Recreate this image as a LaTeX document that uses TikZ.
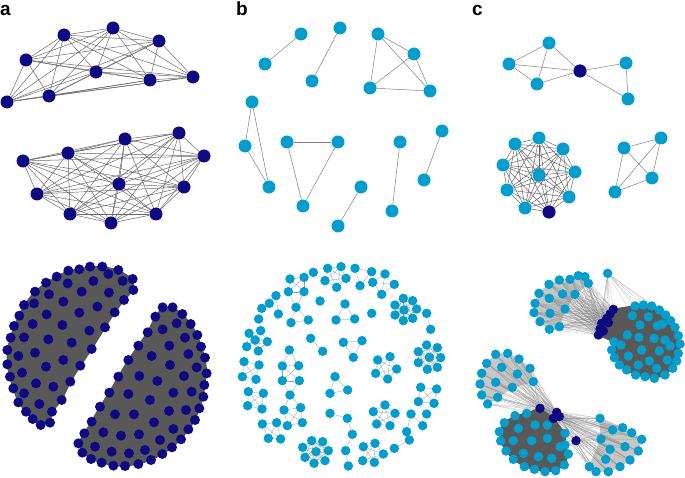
\documentclass[tikz,border=0pt]{standalone}
\usepackage{fontspec}
\setsansfont{Liberation Sans}
\definecolor{navy}{RGB}{15,10,130}
\definecolor{cyn}{RGB}{5,157,204}
\definecolor{edg}{RGB}{105,105,105}
\definecolor{dense}{RGB}{88,88,88}
\pgfdeclarelayer{bg}
\pgfsetlayers{bg,main}
\newcommand\mykcl[3]{\foreach \u in {#3}{\foreach \v in {#3}{\ifnum\u<\v\relax \draw[#1] (#2\u)--(#2\v);\fi}}}
\begin{document}
\begin{tikzpicture}[x=1pt,y=-1pt,
 nbig/.style={circle,inner sep=0pt,minimum size=13pt,fill=navy},
 cbig/.style={circle,inner sep=0pt,minimum size=13pt,fill=cyn},
 nsm/.style={circle,inner sep=0pt,minimum size=10pt,fill=navy},
 csm/.style={circle,inner sep=0pt,minimum size=9.5pt,fill=cyn},
 nsmc/.style={circle,inner sep=0pt,minimum size=9.5pt,fill=navy},
 ed/.style={draw=edg,line width=0.5pt},
 edb/.style={draw=black!50,line width=0.5pt},
 bed/.style={draw=black!40,line width=0.3pt},
 fan/.style={draw=black!50,line width=0.25pt,opacity=0.55},
 densef/.style={fill=dense,draw=dense,line width=1.5pt,line join=round},
 lightf/.style={fill=black!22,draw=black!22,line width=1pt,line join=round},
 lab/.style={font=\sffamily\bfseries\fontsize{19}{19}\selectfont,inner sep=0pt,anchor=base west}]
\useasboundingbox (0,0) rectangle (685,478);

% labels
\node[lab] (la) at (0,16) {a};
\node[lab] (lb) at (236,16) {b};
\node[lab] (lc) at (472,16) {c};

% ---------- panel a top ----------
\foreach \x/\y [count=\i] in {64/35,113/28,159/41,26/60,96/72,150/80,193/77,49/96,7/102}
  \node[nbig] (p\i) at (\x,\y) {};
\foreach \x/\y [count=\i] in {179/133,125/139,68/153,23/161,204/156,119/184,184/187,37/194,70/214,156/214,111/223}
  \node[nbig] (q\i) at (\x,\y) {};

% ---------- panel b top ----------
\foreach \x/\y [count=\i] in {301/34,265/64,340/28,312/81,378/34,414/54,370/88,430/91,252/102,245/146,269/187,287/142,338/142,303/206,361/187,338/226,400/142,392/211,442/131,424/180}
  \node[cbig] (r\i) at (\x,\y) {};

% ---------- panel c top ----------
\foreach \x/\y [count=\i] in {549/43,509/64,537/84,580/71,626/63,628/99}
  \node[cbig] (s\i) at (\x,\y) {};
\node[nbig] at (s4) {};
\foreach \x/\y [count=\i] in {539/175,539/138,515/144,563/149,503/165,575/172,507/190,569/197,525/208,549/212}
  \node[cbig] (t\i) at (\x,\y) {};
\node[nbig] at (t10) {};
\foreach \x/\y [count=\i] in {624/148,661/138,652/178,615/192}
  \node[cbig] (u\i) at (\x,\y) {};

% ---------- panel a bottom ----------
\begin{scope}[shift={(0,250)},scale=1/3]
\foreach \x/\y [count=\i] in {170/80,205/62,238/58,270/50,307/50,355/60,398/87,400/120,372/150,344/187,315/232,275/297,241/347,211/395,185/450,156/485,150/518,122/525,98/507,78/485,55/457,40/415,30/380,22/343,22/300,32/263,42/228,58/197,72/165,105/125,138/98}
  \node[nsm] (aa\i) at (\x,\y) {};
\foreach \x/\y [count=\i] in {203/100,245/125,280/93,325/72,327/128,368/93,147/133,102/160,190/155,238/188,292/170,140/193,98/222,187/225,268/242,145/268,72/262,215/278,105/308,55/318,190/330,138/350,66/368,108/400,160/410,72/430,118/462}
  \node[nsm] (ai\i) at (\x,\y) {};
\foreach \x/\y [count=\i] in {488/172,518/172,547/192,572/222,592/255,603/290,615/323,620/370,613/405,610/440,598/475,585/510,565/538,543/568,516/592,487/612,453/630,415/642,375/648,340/647,305/638,273/627,247/608,235/580,253/550,275/515,300/470,328/428,355/380,385/330,415/287,443/247,466/200}
  \node[nsm] (ab\i) at (\x,\y) {};
\foreach \x/\y [count=\i] in {530/220,488/238,555/263,508/287,565/312,455/318,510/345,590/352,418/378,472/393,552/378,520/428,575/425,385/432,450/450,507/483,558/480,345/493,402/493,462/517,520/537,310/547,363/557,417/553,480/570,285/590,335/605,387/610,435/600}
  \node[nsm] (bi\i) at (\x,\y) {};
\end{scope}

% ---------- panel b bottom ----------
\begin{scope}[shift={(230,250)},scale=1/3]
\foreach \x/\y [count=\i] in {180/87,222/82,175/125,222/125,198/172,183/218,235/210,250/67,293/55,333/50,285/92,348/85,320/112,375/55,425/65,390/107,428/97,465/72,493/103,455/133,520/145,548/152,495/165,560/177,495/195,548/205,520/212,522/180,590/190,602/238,138/137,118/160,145/192,95/175,86/207,270/153,345/162,318/210,374/207,425/190,57/250,92/242,112/275,50/290,85/303,75/270,242/265,278/304,340/277,396/272,370/322,590/285,622/293,565/305,598/322,632/323,565/338,622/352,592/358,178/300,157/348,206/347,157/392,208/392,180/435,162/480,212/473,172/527,217/518,42/335,87/345,37/380,78/388,55/425,100/430,53/467,96/477,443/330,480/320,500/357,473/387,437/370,315/380,300/430,353/420,572/412,620/417,565/455,612/460,465/465,430/485,495/490,440/522,480/527,300/490,352/505,367/553,347/602,355/648,543/492,590/492,578/527,530/545,538/570,493/595,97/522,140/518,115/565,152/567,218/592,245/572,278/575,295/602,258/605,225/622,252/640,285/632,400/590,435/580,460/612,398/632,433/637}
  \node[csm] (bb\i) at (\x,\y) {};
\end{scope}

% ---------- panel c bottom ----------
\begin{scope}[shift={(460,250)},scale=1/3]
\node[csm] (T) at (443,70) {};
\foreach \x/\y [count=\i] in {355/77,375/80,330/88,385/100,298/90,267/103,345/133,308/132,237/130,268/145,225/160,315/177,270/190,222/188,240/215,298/230,268/238}
  \node[csm] (L\i) at (\x,\y) {};
\foreach \x/\y [count=\i] in {525/168,550/165,575/168,598/180,617/195,632/212,645/232,655/257,660/282,655/310,650/333,638/355,615/375,583/385,555/380,527/375,500/360,478/345,463/323,455/300,462/275}
  \node[csm] (rb\i) at (\x,\y) {};
\foreach \x/\y [count=\i] in {517/197,565/200,607/222,540/225,592/227,502/255,537/262,582/265,615/270,483/285,630/288,545/300,598/303,505/318,568/333,622/330,535/345,590/355}
  \node[csm] (ri\i) at (\x,\y) {};
\foreach \x/\y [count=\i] in {460/178,450/192,440/205,425/220,445/218,420/237,430/243,415/255}
  \node[nsmc] (h\i) at (\x,\y) {};
% lower structure
\foreach \x/\y [count=\i] in {107/313,143/310,177/327,80/340,125/352,210/355,65/370,172/372,107/397,220/395,60/402,157/412,65/435,113/442,83/462}
  \node[csm] (M\i) at (\x,\y) {};
\foreach \x/\y [count=\i] in {200/490,165/497,133/518,118/545,122/573,138/603,160/628,193/650,223/658,255/665,287/662,313/645,325/612,315/585,315/550}
  \node[csm] (ld\i) at (\x,\y) {};
\foreach \x/\y [count=\i] in {225/525,175/535,262/525,215/572,262/565,160/572,300/590,190/610,235/620,275/625}
  \node[csm] (li\i) at (\x,\y) {};
\foreach \x/\y [count=\i] in {420/505,458/540,488/533,515/548,545/568,423/567,495/590,535/603,450/598,510/630,437/628,480/650,388/650,408/665,445/665}
  \node[csm] (N\i) at (\x,\y) {};
\foreach \x/\y [count=\i] in {240/475,290/487,280/505,298/500,348/572}
  \node[nsmc] (g\i) at (\x,\y) {};
\end{scope}

% ---------- edges on background ----------
\begin{pgfonlayer}{bg}
\mykcl{ed}{p}{1,...,9}
\mykcl{ed}{q}{1,...,11}
% b top
\foreach \a/\b in {1/2,3/4,5/6,5/7,5/8,6/7,6/8,7/8,9/10,9/11,10/11,12/13,12/14,13/14,15/16,17/18,19/20}
  \draw[edb] (r\a)--(r\b);
% c top
\foreach \a/\b in {1/2,1/3,1/4,2/3,2/4,3/4,4/5,4/6,5/6}
  \draw[edb] (s\a)--(s\b);
\mykcl{ed}{t}{1,...,10}
\mykcl{edb}{u}{1,...,4}
% a bottom dense
\fill[densef] (aa1.center) \foreach \i in {2,...,31}{--(aa\i.center)} -- cycle;
\fill[densef] (ab1.center) \foreach \i in {2,...,33}{--(ab\i.center)} -- cycle;
% b bottom
\mykcl{bed}{bb}{1,2,3,4}
\foreach \a/\b in {3/5,4/5,29/30,31/33,32/34,34/35,47/48,95/96,96/97,97/98,98/99,100/103,100/102,103/104,104/105,60/61,60/62,61/62,61/63,62/64,63/64,61/64,62/63,63/65,64/65,65/66,65/67,66/67,66/68,67/69,68/69,66/69,67/68}
  \draw[bed] (bb\a)--(bb\b);
\mykcl{bed}{bb}{5,6,7}
\mykcl{bed}{bb}{9,10,11,12,13}
\mykcl{bed}{bb}{14,15,16}
\mykcl{bed}{bb}{17,18,19,20}
\mykcl{bed}{bb}{21,22,23,24,25,26,27,28}
\mykcl{bed}{bb}{37,38,39}
\mykcl{bed}{bb}{41,42,43,44,45,46}
\mykcl{bed}{bb}{49,50,51}
\mykcl{bed}{bb}{52,53,54,55,56,57,58,59}
\mykcl{bed}{bb}{70,71,72,73}
\mykcl{bed}{bb}{74,75,76,77}
\mykcl{bed}{bb}{78,79,80,81,82}
\mykcl{bed}{bb}{83,84,85}
\mykcl{bed}{bb}{86,87,88,89}
\mykcl{bed}{bb}{90,91,92,93,94}
\mykcl{bed}{bb}{106,107,108,109}
\mykcl{bed}{bb}{110,111,112,113,114,115,116,117}
\mykcl{bed}{bb}{118,119,120,121,122}
% c bottom light fills
\fill[lightf] (L6.center)--(L5.center)--(L3.center)--(L1.center)--(L2.center)--(L4.center)--(L7.center)--(L12.center)--(L16.center)--(L17.center)--(L15.center)--(L14.center)--(L11.center)--(L9.center)--cycle;
\fill[lightf] (M1.center)--(M2.center)--(M3.center)--(M6.center)--(M10.center)--(M12.center)--(M14.center)--(M15.center)--(M13.center)--(M11.center)--(M7.center)--(M4.center)--cycle;
\fill[lightf] (N1.center)--(N3.center)--(N4.center)--(N5.center)--(N8.center)--(N10.center)--(N12.center)--(N15.center)--(N14.center)--(N13.center)--(N6.center)--cycle;
% c bottom fan lines
\foreach \h in {1,...,8}{\foreach \f in {1,...,17}{\draw[fan] (h\h)--(L\f);}}
\foreach \h in {1,...,8}{\draw[fan] (T)--(h\h);}
\foreach \f in {1,2,3,4}{\draw[fan] (T)--(rb\f);}
\draw[fan] (T)--(ri1); \draw[fan] (T)--(ri2);
\foreach \h in {1,...,4}{\foreach \f in {1,...,15}{\draw[fan] (g\h)--(M\f);}}
\foreach \h in {1,...,5}{\foreach \f in {1,...,15}{\draw[fan] (g\h)--(N\f);}}
% c bottom dense fills
\fill[densef] (h1.center) \foreach \i in {1,...,21}{--(rb\i.center)} --(h8.center)--(h6.center)--(h4.center)--(h3.center)--(h2.center)-- cycle;
\fill[densef] (ld1.center) \foreach \i in {2,...,15}{--(ld\i.center)} --(g3.center)--(g1.center)-- cycle;
\end{pgfonlayer}
\end{tikzpicture}
\end{document}
